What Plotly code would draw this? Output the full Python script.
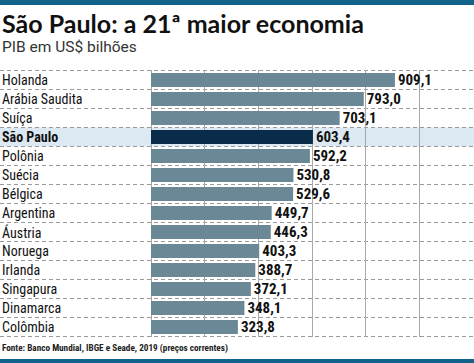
import plotly.graph_objects as go

countries = ["Holanda", "Arábia Saudita", "Suíça", "São Paulo", "Polônia", "Suécia",
             "Bélgica", "Argentina", "Áustria", "Noruega", "Irlanda", "Singapura",
             "Dinamarca", "Colômbia"]
values = [909.1, 793.0, 703.1, 603.4, 592.2, 530.8, 529.6, 449.7, 446.3, 403.3,
          388.7, 372.1, 348.1, 323.8]
highlight = "São Paulo"

title = "São Paulo: a 21ª maior economia"
subtitle = "PIB em US$ bilhões"
source = "Fonte: Banco Mundial, IBGE e Seade, 2019 (preços correntes)"

W, H = 474, 363
ML, MR, MT, MB = 151, 1, 70, 26
pw = W - ML - MR
ph = H - MT - MB

NARROW = "Liberation Sans Narrow, Roboto Condensed, Arial Narrow, Roboto, sans-serif"

bar_colors = ["#0b2b4a" if c == highlight else "#6b8896" for c in countries]
texts = [f"{v:.1f}".replace(".", ",") for v in values]

fig = go.Figure()
fig.add_trace(go.Bar(
    x=values, y=countries, orientation="h",
    marker=dict(color=bar_colors, line=dict(width=0)),
    text=texts, textposition="outside", cliponaxis=False, constraintext="none",
    textfont=dict(family=NARROW, size=15, color="#111", weight="bold"),
    hoverinfo="skip",
))

shapes = []
x_left = -ML / pw
n = len(countries)
hi = countries.index(highlight)
shapes.append(dict(type="rect", xref="paper", yref="y", x0=x_left, x1=1 + MR / pw,
                   y0=hi - 0.5, y1=hi + 0.5, fillcolor="#dce9f2",
                   line=dict(width=0), layer="below"))
for i in range(n + 1):
    shapes.append(dict(type="line", xref="paper", yref="y", x0=x_left, x1=1 + MR / pw,
                       y0=i - 0.5, y1=i - 0.5,
                       line=dict(color="#9a9a9a", width=1, dash="4px,3px"),
                       layer="below"))
# top and bottom color strips
shapes.append(dict(type="rect", xref="paper", yref="paper", x0=x_left, x1=1 + MR / pw,
                   y0=1 + (MT - 5) / ph, y1=1 + MT / ph, fillcolor="#13628a",
                   line=dict(width=0)))
shapes.append(dict(type="rect", xref="paper", yref="paper", x0=x_left, x1=1 + MR / pw,
                   y0=-MB / ph, y1=-(MB - 4) / ph, fillcolor="#13628a",
                   line=dict(width=0)))

annotations = []
for c in countries:
    annotations.append(dict(
        x=x_left, y=c, xref="paper", yref="y", xanchor="left", yanchor="middle",
        text=f"<b>{c}</b>" if c == highlight else c, showarrow=False,
        font=dict(family=NARROW, size=14, color="#111"),
    ))
annotations.append(dict(x=x_left, y=1 + (MT - 23) / ph, xref="paper", yref="paper",
                        xanchor="left", yanchor="middle", showarrow=False,
                        text=f"<b>{title}</b>",
                        font=dict(family="Lato, Roboto, sans-serif", size=25,
                                  color="#111", weight=900)))
annotations.append(dict(x=x_left, y=1 + (MT - 47) / ph, xref="paper", yref="paper",
                        xanchor="left", yanchor="middle", showarrow=False,
                        text=subtitle,
                        font=dict(family="Roboto, sans-serif", size=15.5, color="#333")))
annotations.append(dict(x=x_left, y=-(MB - 15) / ph, xref="paper", yref="paper",
                        xanchor="left", yanchor="middle", showarrow=False,
                        text=f"<b>{source}</b>",
                        font=dict(family=NARROW, size=9.2, color="#222")))

fig.update_layout(
    width=W, height=H,
    margin=dict(l=ML, r=MR, t=MT, b=MB, pad=0),
    paper_bgcolor="white", plot_bgcolor="rgba(0,0,0,0)",
    showlegend=False, bargap=0.26,
    shapes=shapes, annotations=annotations,
    xaxis=dict(range=[0, 1200], dtick=200, tick0=0, showgrid=True,
               gridcolor="#a8a8a8", gridwidth=1, showticklabels=False,
               zeroline=True, zerolinecolor="#a8a8a8", zerolinewidth=1,
               showline=False, ticks="", fixedrange=True),
    yaxis=dict(autorange="reversed", showticklabels=False, showgrid=False,
               zeroline=False, ticks="", fixedrange=True),
)

fig.write_html(
    "out.html",
    config={"displayModeBar": False},
    post_script="document.body.style.margin='0';document.documentElement.style.overflow='hidden';",
)
